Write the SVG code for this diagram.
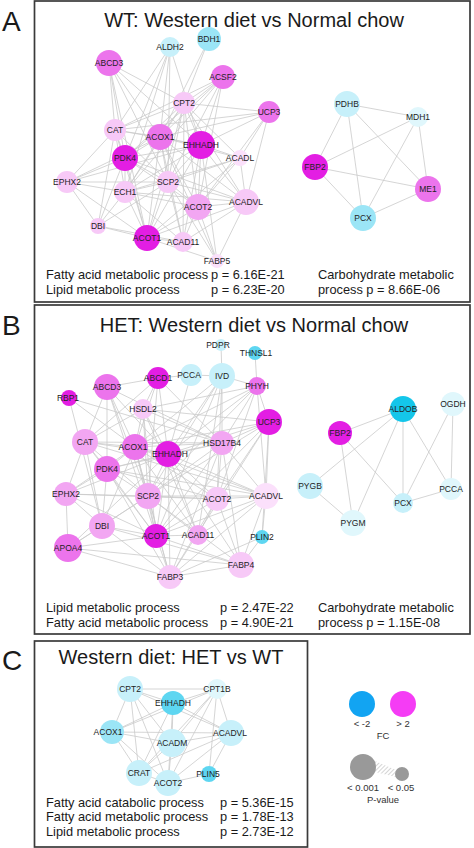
<svg xmlns="http://www.w3.org/2000/svg" width="474" height="848" viewBox="0 0 474 848">
<style>
text{font-family:"Liberation Sans",Arial,sans-serif;fill:#1a1a1a}
.frame{fill:none;stroke:#3a3a3a;stroke-width:1.7}
.lbl{font-size:28px}
.ttl{font-size:20px;text-anchor:middle}
.st{font-size:12.8px}
.e{fill:none;stroke:#cacaca;stroke-width:0.8}
.n text{font-size:8.5px;text-anchor:middle;fill:#222}
.lg{font-size:9.5px;text-anchor:middle;fill:#333}
.m4{fill:#e31ee3}.m3{fill:#ec74ec}.m2{fill:#f2a6f2}.m1{fill:#f7c9f7}.m0{fill:#fbe0fb}
.b4{fill:#14c6ea}.b3{fill:#5ed6f1}.b2{fill:#9be5f6}.b1{fill:#c7f0fa}.b0{fill:#e0f7fc}
</style>
<defs>
<pattern id="hatch" width="3" height="3" patternUnits="userSpaceOnUse" patternTransform="rotate(45)">
<line x1="0" y1="0" x2="0" y2="3" stroke="#b8b8b8" stroke-width="1.2"/>
</pattern>
</defs>
<rect width="474" height="848" fill="#fff"/>

<g id="panelA">
<rect class="frame" x="34.5" y="1" width="435.5" height="301"/>
<text class="lbl" x="2" y="31">A</text>
<text class="ttl" x="254" y="27">WT: Western diet vs Normal chow</text>
<text class="st" x="46" y="279">Fatty acid metabolic process</text>
<text class="st" x="211" y="279">p = 6.16E-21</text>
<text class="st" x="46" y="294">Lipid metabolic process</text>
<text class="st" x="211" y="294">p = 6.23E-20</text>
<text class="st" x="318" y="279">Carbohydrate metabolic</text>
<text class="st" x="318" y="294">process p = 8.66E-06</text>
</g>
<g id="panelB">
<rect class="frame" x="34.5" y="305" width="435.5" height="329"/>
<text class="lbl" x="2" y="335">B</text>
<text class="ttl" x="254" y="332">HET: Western diet vs Normal chow</text>
<text class="st" x="46" y="612">Lipid metabolic process</text>
<text class="st" x="220" y="612">p = 2.47E-22</text>
<text class="st" x="46" y="627">Fatty acid metabolic process</text>
<text class="st" x="220" y="627">p = 4.90E-21</text>
<text class="st" x="318" y="612">Carbohydrate metabolic</text>
<text class="st" x="318" y="627">process p = 1.15E-08</text>
</g>
<g id="panelC">
<rect class="frame" x="34.5" y="641" width="273" height="206"/>
<text class="lbl" x="2" y="670">C</text>
<text class="ttl" x="171" y="664">Western diet: HET vs WT</text>
<text class="st" x="46" y="807">Fatty acid catabolic process</text>
<text class="st" x="220" y="807">p = 5.36E-15</text>
<text class="st" x="46" y="821">Fatty acid metabolic process</text>
<text class="st" x="220" y="821">p = 1.78E-13</text>
<text class="st" x="46" y="836">Lipid metabolic process</text>
<text class="st" x="220" y="836">p = 2.73E-12</text>
</g>

<g id="connectors">
<path class="e" d="M170 47L115 130M170 47L160 137M170 47L125 158M170 47L168 182M170 47L125 192M170 47L201 145
M209 39L184 103M209 39L160 137
M109 63L115 130M109 63L160 137M109 63L201 145M109 63L168 182M109 63L125 158M109 63L184 103M109 63L147 238
M223 77L184 103M223 77L160 137M223 77L201 145M223 77L125 158M223 77L115 130M223 77L168 182M223 77L125 192M223 77L198 207
M184 103L115 130M184 103L160 137M184 103L201 145M184 103L125 158M184 103L269 112M184 103L168 182M184 103L125 192M184 103L198 207M184 103L240 158M184 103L246 202M184 103L147 238M184 103L183 242
M269 112L115 130M269 112L160 137M269 112L201 145M269 112L240 158M269 112L246 202M269 112L198 207
M115 130L160 137M115 130L201 145M115 130L125 158M115 130L67 182M115 130L125 192M115 130L168 182M115 130L147 238M115 130L98 226
M160 137L201 145M160 137L125 158M160 137L168 182M160 137L125 192M160 137L198 207M160 137L240 158M160 137L246 202M160 137L147 238M160 137L183 242M160 137L67 182M160 137L217 261
M201 145L125 158M201 145L168 182M201 145L125 192M201 145L198 207M201 145L240 158M201 145L246 202M201 145L147 238M201 145L183 242M201 145L217 261M201 145L67 182
M125 158L67 182M125 158L168 182M125 158L125 192M125 158L198 207M125 158L147 238M125 158L98 226M125 158L246 202
M240 158L168 182M240 158L198 207M240 158L246 202M240 158L147 238M240 158L125 192
M67 182L125 192M67 182L168 182M67 182L98 226M67 182L147 238
M168 182L125 192M168 182L198 207M168 182L246 202M168 182L147 238M168 182L183 242M168 182L217 261M168 182L98 226
M125 192L198 207M125 192L147 238M125 192L246 202M125 192L183 242M125 192L98 226
M198 207L246 202M198 207L147 238M198 207L183 242M198 207L217 261
M246 202L147 238M246 202L183 242M246 202L217 261
M98 226L147 238M98 226L183 242
M147 238L183 242M147 238L217 261"/>
<path class="e" d="M347 104L418 117M347 104L315 167M347 104L363 218M347 104L428 189M418 117L315 167M418 117L363 218M418 117L428 189M315 167L428 189M315 167L363 218M363 218L428 189"/>
<path class="e" d="M221 345L222 376M255 353L257 386
M222 376L191 375M222 376L257 386M222 376L168 454M222 376L135 447M222 376L222 443M222 376L148 496M222 376L217 499M222 376L198 535M222 376L156 536
M191 375L158 378M191 375L168 454
M158 378L107 387M158 378L135 447M158 378L168 454M158 378L143 409M158 378L85 442M158 378L148 496M158 378L222 443
M257 386L222 443M257 386L269 422M257 386L135 447M257 386L168 454M257 386L148 496M257 386L143 409M257 386L266 496M257 386L217 499
M107 387L85 442M107 387L135 447M107 387L168 454M107 387L222 443M107 387L148 496M107 387L107 469M107 387L156 536
M69 398L222 443M69 398L135 447M69 398L102 526
M143 409L135 447M143 409L168 454M143 409L85 442M143 409L148 496M143 409L222 443M143 409L156 536M143 409L198 535M143 409L269 422
M269 422L222 443M269 422L135 447M269 422L168 454M269 422L266 496M269 422L217 499M269 422L262 537M269 422L156 536M269 422L170 577M269 422L148 496
M85 442L135 447M85 442L168 454M85 442L107 469M85 442L66 494M85 442L148 496M85 442L222 443M85 442L156 536M85 442L102 526M85 442L266 496
M135 447L168 454M135 447L222 443M135 447L107 469M135 447L148 496M135 447L217 499M135 447L266 496M135 447L156 536M135 447L198 535M135 447L102 526M135 447L170 577M135 447L66 494
M168 454L222 443M168 454L107 469M168 454L148 496M168 454L217 499M168 454L266 496M168 454L156 536M168 454L198 535M168 454L170 577M168 454L241 565M168 454L68 548M168 454L66 494
M222 443L148 496M222 443L217 499M222 443L266 496M222 443L107 469M222 443L156 536M222 443L170 577M222 443L241 565
M107 469L66 494M107 469L148 496M107 469L217 499M107 469L266 496M107 469L156 536M107 469L102 526M107 469L170 577
M66 494L148 496M66 494L102 526M66 494L217 499M66 494L68 548M66 494L156 536
M148 496L217 499M148 496L266 496M148 496L156 536M148 496L198 535M148 496L102 526M148 496L170 577M148 496L68 548M148 496L241 565
M217 499L266 496M217 499L156 536M217 499L198 535M217 499L170 577M217 499L241 565
M266 496L262 537M266 496L241 565M266 496L156 536M266 496L170 577M266 496L198 535
M102 526L156 536M102 526L68 548M102 526L170 577M102 526L241 565
M156 536L198 535M156 536L170 577M156 536L241 565M156 536L68 548
M68 548L170 577M68 548L241 565M262 537L241 565M262 537L170 577M170 577L241 565"/>
<path class="e" d="M340 433L403 409M403 409L310 486M403 409L353 523M403 409L403 503M403 409L451 489M340 433L353 523M340 433L403 503M310 486L353 523M403 503L451 489M453 404L451 489M453 404L403 503"/>
<path class="e" d="M130 689L217 689M130 689L173 703M130 689L112 732M130 689L172 743M130 689L139 773M130 689L168 783M130 689L231 733
M217 689L173 703M217 689L231 733M217 689L112 732M217 689L172 743M217 689L139 773M217 689L168 783M217 689L209 774
M173 703L112 732M173 703L172 743M173 703L231 733M173 703L139 773M173 703L168 783
M112 732L172 743M112 732L231 733M112 732L139 773M112 732L168 783
M231 733L172 743M231 733L139 773M231 733L168 783M231 733L209 774
M172 743L139 773M172 743L168 783M139 773L168 783M209 774L168 783"/>
</g>

<g id="A_ALDH2" class="n"><circle class="b1" cx="170" cy="47" r="10"/><text x="170" y="50">ALDH2</text></g>
<g id="A_BDH1" class="n"><circle class="b2" cx="209" cy="39" r="12"/><text x="209" y="42">BDH1</text></g>
<g id="A_ABCD3" class="n"><circle class="m3" cx="109" cy="63" r="13"/><text x="109" y="66">ABCD3</text></g>
<g id="A_ACSF2" class="n"><circle class="m3" cx="223" cy="77" r="12"/><text x="223" y="80">ACSF2</text></g>
<g id="A_CPT2" class="n"><circle class="m1" cx="184" cy="103" r="11"/><text x="184" y="106">CPT2</text></g>
<g id="A_UCP3" class="n"><circle class="m3" cx="269" cy="112" r="11"/><text x="269" y="115">UCP3</text></g>
<g id="A_CAT" class="n"><circle class="m1" cx="115" cy="130" r="11"/><text x="115" y="133">CAT</text></g>
<g id="A_ACOX1" class="n"><circle class="m3" cx="160" cy="137" r="13"/><text x="160" y="140">ACOX1</text></g>
<g id="A_EHHADH" class="n"><circle class="m4" cx="201" cy="145" r="14"/><text x="201" y="148">EHHADH</text></g>
<g id="A_PDK4" class="n"><circle class="m4" cx="125" cy="158" r="13"/><text x="125" y="161">PDK4</text></g>
<g id="A_ACADL" class="n"><circle class="m0" cx="240" cy="158" r="8"/><text x="240" y="161">ACADL</text></g>
<g id="A_EPHX2" class="n"><circle class="m1" cx="67" cy="182" r="11"/><text x="67" y="185">EPHX2</text></g>
<g id="A_SCP2" class="n"><circle class="m1" cx="168" cy="182" r="11"/><text x="168" y="185">SCP2</text></g>
<g id="A_ECH1" class="n"><circle class="m1" cx="125" cy="192" r="11"/><text x="125" y="195">ECH1</text></g>
<g id="A_ACOT2" class="n"><circle class="m2" cx="198" cy="207" r="13"/><text x="198" y="210">ACOT2</text></g>
<g id="A_ACADVL" class="n"><circle class="m1" cx="246" cy="202" r="13"/><text x="246" y="205">ACADVL</text></g>
<g id="A_DBI" class="n"><circle class="m1" cx="98" cy="226" r="8"/><text x="98" y="229">DBI</text></g>
<g id="A_ACOT1" class="n"><circle class="m4" cx="147" cy="238" r="13"/><text x="147" y="241">ACOT1</text></g>
<g id="A_ACAD11" class="n"><circle class="m1" cx="183" cy="242" r="10"/><text x="183" y="245">ACAD11</text></g>
<g id="A_FABP5" class="n"><circle class="m0" cx="217" cy="261" r="7"/><text x="217" y="264">FABP5</text></g>
<g id="A_PDHB" class="n"><circle class="b1" cx="347" cy="104" r="13"/><text x="347" y="107">PDHB</text></g>
<g id="A_MDH1" class="n"><circle class="b0" cx="418" cy="117" r="10"/><text x="418" y="120">MDH1</text></g>
<g id="A_FBP2" class="n"><circle class="m4" cx="315" cy="167" r="13"/><text x="315" y="170">FBP2</text></g>
<g id="A_ME1" class="n"><circle class="m3" cx="428" cy="189" r="13"/><text x="428" y="192">ME1</text></g>
<g id="A_PCX" class="n"><circle class="b2" cx="363" cy="218" r="13"/><text x="363" y="221">PCX</text></g>

<g id="B_PDPR" class="n"><circle class="b1" cx="221" cy="345" r="6"/><text x="218" y="348">PDPR</text></g>
<g id="B_THNSL1" class="n"><circle class="b3" cx="255" cy="353" r="7"/><text x="256" y="356">THNSL1</text></g>
<g id="B_PCCA" class="n"><circle class="b1" cx="191" cy="375" r="11"/><text x="189" y="378">PCCA</text></g>
<g id="B_IVD" class="n"><circle class="b1" cx="222" cy="376" r="13"/><text x="222" y="379">IVD</text></g>
<g id="B_ABCD1" class="n"><circle class="m4" cx="158" cy="378" r="11"/><text x="158" y="381">ABCD1</text></g>
<g id="B_PHYH" class="n"><circle class="m3" cx="257" cy="386" r="9"/><text x="257" y="389">PHYH</text></g>
<g id="B_ABCD3" class="n"><circle class="m3" cx="107" cy="387" r="13"/><text x="107" y="390">ABCD3</text></g>
<g id="B_RBP1" class="n"><circle class="m4" cx="69" cy="398" r="8"/><text x="68" y="401">RBP1</text></g>
<g id="B_HSDL2" class="n"><circle class="m1" cx="143" cy="409" r="10"/><text x="143" y="412">HSDL2</text></g>
<g id="B_UCP3" class="n"><circle class="m4" cx="269" cy="422" r="13"/><text x="269" y="425">UCP3</text></g>
<g id="B_CAT" class="n"><circle class="m2" cx="85" cy="442" r="13"/><text x="85" y="445">CAT</text></g>
<g id="B_ACOX1" class="n"><circle class="m3" cx="135" cy="447" r="13"/><text x="133" y="450">ACOX1</text></g>
<g id="B_EHHADH" class="n"><circle class="m4" cx="168" cy="454" r="13"/><text x="170" y="457">EHHADH</text></g>
<g id="B_HSD17B4" class="n"><circle class="m2" cx="222" cy="443" r="12"/><text x="222" y="446">HSD17B4</text></g>
<g id="B_PDK4" class="n"><circle class="m3" cx="107" cy="469" r="13"/><text x="107" y="472">PDK4</text></g>
<g id="B_EPHX2" class="n"><circle class="m2" cx="66" cy="494" r="12"/><text x="66" y="497">EPHX2</text></g>
<g id="B_SCP2" class="n"><circle class="m2" cx="148" cy="496" r="13"/><text x="148" y="499">SCP2</text></g>
<g id="B_ACOT2" class="n"><circle class="m1" cx="217" cy="499" r="12"/><text x="217" y="502">ACOT2</text></g>
<g id="B_ACADVL" class="n"><circle class="m0" cx="266" cy="496" r="13"/><text x="266" y="499">ACADVL</text></g>
<g id="B_DBI" class="n"><circle class="m2" cx="102" cy="526" r="13"/><text x="102" y="529">DBI</text></g>
<g id="B_ACOT1" class="n"><circle class="m4" cx="156" cy="536" r="12"/><text x="156" y="539">ACOT1</text></g>
<g id="B_ACAD11" class="n"><circle class="m2" cx="198" cy="535" r="10"/><text x="198" y="538">ACAD11</text></g>
<g id="B_PLIN2" class="n"><circle class="b3" cx="262" cy="537" r="7"/><text x="262" y="540">PLIN2</text></g>
<g id="B_APOA4" class="n"><circle class="m3" cx="68" cy="548" r="14"/><text x="68" y="551">APOA4</text></g>
<g id="B_FABP4" class="n"><circle class="m1" cx="241" cy="565" r="13"/><text x="241" y="568">FABP4</text></g>
<g id="B_FABP3" class="n"><circle class="m1" cx="170" cy="577" r="12"/><text x="170" y="580">FABP3</text></g>
<g id="B_ALDOB" class="n"><circle class="b4" cx="403" cy="409" r="13"/><text x="403" y="412">ALDOB</text></g>
<g id="B_OGDH" class="n"><circle class="b0" cx="453" cy="404" r="12"/><text x="453" y="407">OGDH</text></g>
<g id="B_FBP2" class="n"><circle class="m4" cx="340" cy="433" r="12"/><text x="340" y="436">FBP2</text></g>
<g id="B_PYGB" class="n"><circle class="b1" cx="310" cy="486" r="13"/><text x="310" y="489">PYGB</text></g>
<g id="B_PCCA2" class="n"><circle class="b0" cx="451" cy="489" r="11"/><text x="451" y="492">PCCA</text></g>
<g id="B_PCX" class="n"><circle class="b1" cx="403" cy="503" r="10"/><text x="403" y="506">PCX</text></g>
<g id="B_PYGM" class="n"><circle class="b0" cx="353" cy="523" r="13"/><text x="353" y="526">PYGM</text></g>

<g id="C_CPT2" class="n"><circle class="b1" cx="130" cy="689" r="13"/><text x="130" y="692">CPT2</text></g>
<g id="C_CPT1B" class="n"><circle class="b0" cx="217" cy="689" r="10"/><text x="217" y="692">CPT1B</text></g>
<g id="C_EHHADH" class="n"><circle class="b3" cx="173" cy="703" r="12"/><text x="173" y="706">EHHADH</text></g>
<g id="C_ACOX1" class="n"><circle class="b2" cx="112" cy="732" r="12"/><text x="108" y="735">ACOX1</text></g>
<g id="C_ACADVL" class="n"><circle class="b1" cx="231" cy="733" r="13"/><text x="230" y="736">ACADVL</text></g>
<g id="C_ACADM" class="n"><circle class="b1" cx="172" cy="743" r="14"/><text x="172" y="746">ACADM</text></g>
<g id="C_CRAT" class="n"><circle class="b1" cx="139" cy="773" r="13"/><text x="139" y="776">CRAT</text></g>
<g id="C_PLIN5" class="n"><circle class="b3" cx="209" cy="774" r="8"/><text x="208" y="777">PLIN5</text></g>
<g id="C_ACOT2" class="n"><circle class="b1" cx="168" cy="783" r="13"/><text x="168" y="786">ACOT2</text></g>

<g id="legend">
<circle cx="362" cy="704" r="13" fill="#12a4f2"/>
<circle cx="403" cy="704" r="13" fill="#f53cf5"/>
<text class="lg" x="362" y="727">&lt; -2</text>
<text class="lg" x="403" y="727">&gt; 2</text>
<text class="lg" x="383" y="739">FC</text>
<polygon points="375,761 375,772 396,777 396,770" fill="url(#hatch)"/>
<circle cx="363" cy="767" r="13" fill="#999"/>
<circle cx="402" cy="774" r="7" fill="#999"/>
<text class="lg" x="363" y="791">&lt; 0.001</text>
<text class="lg" x="401" y="791">&lt; 0.05</text>
<text class="lg" x="383" y="803">P-value</text>
</g>
</svg>
